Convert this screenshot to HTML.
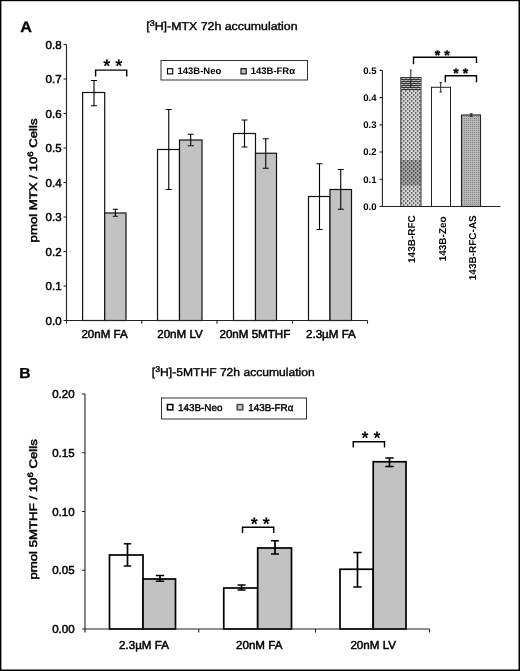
<!DOCTYPE html>
<html lang="en"><head><meta charset="utf-8"><title>Figure</title>
<style>html,body{margin:0;padding:0;background:#fff}svg{display:block}text{font-family:"Liberation Sans", sans-serif;fill:#000;text-rendering:geometricPrecision}.t{font-size:11.6px;stroke:#000;stroke-width:.5px}.tt{stroke:#000;stroke-width:.38px}.tk{font-size:11.5px;stroke:#000;stroke-width:.5px}.lg{font-size:9.5px;font-weight:bold}.lgb{font-size:9.9px;stroke:#000;stroke-width:.4px}.ib{font-size:9.6px;font-weight:bold}.pl{font-size:16px;font-weight:bold;stroke:#000;stroke-width:.3px}.st{font-size:18px;font-weight:bold}.sts{font-size:14px;font-weight:bold;stroke:#000;stroke-width:.3px}.ax{stroke:#222;stroke-width:1.1;fill:none}.bw{fill:#fff;stroke:#111;stroke-width:1.2}.bg{fill:#c2c2c2;stroke:#111;stroke-width:1.2}.bw2{fill:#fff;stroke:#000;stroke-width:1.7}.bg2{fill:#c2c2c2;stroke:#000;stroke-width:1.7}.eb{stroke:#000;stroke-width:1.1;fill:none}.ebi{stroke:#222;stroke-width:1;fill:none}.eb2{stroke:#000;stroke-width:1.7;fill:none}.br{stroke:#000;stroke-width:1.4;fill:none}</style></head><body>
<svg width="520" height="671" viewBox="0 0 520 671">
<defs>
<pattern id="brick" width="4" height="4" patternUnits="userSpaceOnUse"><rect width="4" height="4" fill="#505050"/><rect x="0.3" y="0.3" width="2.9" height="1.5" fill="#fff"/><rect x="2.3" y="2.3" width="2.9" height="1.5" fill="#fff"/><rect x="-1.7" y="2.3" width="2.9" height="1.5" fill="#fff"/></pattern>
<pattern id="lines" width="4" height="4" patternUnits="userSpaceOnUse"><rect width="4" height="4" fill="#3c3c3c"/><rect x="0.4" y="0" width="3.2" height="0.9" fill="#fff"/><rect x="2.4" y="2" width="3.2" height="0.9" fill="#fff"/><rect x="-1.6" y="2" width="3.2" height="0.9" fill="#fff"/></pattern>
<pattern id="dots" width="2" height="2" patternUnits="userSpaceOnUse"><rect width="2" height="2" fill="#b6b6b6"/><rect width="1" height="1" fill="#8a8a8a"/></pattern>
</defs>
<rect x="0" y="0" width="520" height="671" fill="#fff"/>
<rect x="0" y="0" width="1.4" height="671" fill="#000"/>
<rect x="0" y="0" width="520" height="1.2" fill="#000"/>
<rect x="518.5" y="0" width="1.5" height="671" fill="#000"/>
<rect x="0" y="669.5" width="520" height="1.5" fill="#000"/>
<text class="pl" transform="translate(20.3 32.3) scale(1.08 1)" style="font-size:15px">A</text>
<text class="tt" transform="translate(146.2 30.2) scale(1.085 1)" style="font-size:11.4px">[<tspan style="font-size:8.3px" dy="-4">3</tspan><tspan dy="4">H]-MTX 72h accumulation</tspan></text>
<rect class="bw" x="82.60" y="92.50" width="22.10" height="228.00"/>
<rect class="bg" x="104.70" y="213.00" width="21.30" height="107.50"/>
<path class="eb" d="M94.00 80.50V105.75M91.00 80.50H97.00M91.00 105.75H97.00"/>
<path class="eb" d="M115.40 209.20V216.20M112.80 209.20H118.00M112.80 216.20H118.00"/>
<rect class="bw" x="157.50" y="149.50" width="22.00" height="171.00"/>
<rect class="bg" x="179.50" y="140.00" width="22.50" height="180.50"/>
<path class="eb" d="M168.75 109.50V189.50M165.75 109.50H171.75M165.75 189.50H171.75"/>
<path class="eb" d="M190.75 134.25V145.75M187.75 134.25H193.75M187.75 145.75H193.75"/>
<rect class="bw" x="233.50" y="133.50" width="22.00" height="187.00"/>
<rect class="bg" x="255.50" y="153.25" width="21.00" height="167.25"/>
<path class="eb" d="M244.50 120.00V147.00M241.50 120.00H247.50M241.50 147.00H247.50"/>
<path class="eb" d="M265.75 138.75V168.25M262.75 138.75H268.75M262.75 168.25H268.75"/>
<rect class="bw" x="308.50" y="196.50" width="21.50" height="124.00"/>
<rect class="bg" x="330.00" y="189.50" width="21.50" height="131.00"/>
<path class="eb" d="M319.50 163.75V229.50M316.50 163.75H322.50M316.50 229.50H322.50"/>
<path class="eb" d="M340.75 169.50V209.25M337.75 169.50H343.75M337.75 209.25H343.75"/>
<path class="ax" d="M66.5 44.5V320.5H367.5"/>
<path class="ax" d="M63.5 320.50H66.5M63.5 286.00H66.5M63.5 251.50H66.5M63.5 217.00H66.5M63.5 182.50H66.5M63.5 148.00H66.5M63.5 113.50H66.5M63.5 79.00H66.5M63.5 44.50H66.5M66.50 320.5V323.8M141.75 320.5V323.8M217.00 320.5V323.8M292.50 320.5V323.8M367.50 320.5V323.8"/>
<text class="tk" text-anchor="end" x="61.6" y="324.50">0.0</text>
<text class="tk" text-anchor="end" x="61.6" y="290.00">0.1</text>
<text class="tk" text-anchor="end" x="61.6" y="255.50">0.2</text>
<text class="tk" text-anchor="end" x="61.6" y="221.00">0.3</text>
<text class="tk" text-anchor="end" x="61.6" y="186.50">0.4</text>
<text class="tk" text-anchor="end" x="61.6" y="152.00">0.5</text>
<text class="tk" text-anchor="end" x="61.6" y="117.50">0.6</text>
<text class="tk" text-anchor="end" x="61.6" y="83.00">0.7</text>
<text class="tk" text-anchor="end" x="61.6" y="48.50">0.8</text>
<text class="t" text-anchor="middle" x="104.6" y="338">20nM FA</text>
<text class="t" text-anchor="middle" x="180.0" y="338">20nM LV</text>
<text class="t" text-anchor="middle" x="254.9" y="338">20nM 5MTHF</text>
<text class="t" text-anchor="middle" x="330.9" y="338">2.3µM FA</text>
<text class="t" transform="translate(36.8 242.4) rotate(-90) scale(1.21 1)" style="font-size:10.9px">pmol MTX / 10<tspan style="font-size:7.8px" dy="-4">6</tspan><tspan dy="4"> Cells</tspan></text>
<rect x="161" y="60.5" width="146.5" height="19.5" fill="#fff" stroke="#333" stroke-width="1"/>
<rect x="167.5" y="68.7" width="5.2" height="5.2" fill="#fff" stroke="#000" stroke-width="1.1"/>
<rect x="241" y="68.7" width="5.2" height="5.2" fill="#c2c2c2" stroke="#000" stroke-width="1.1"/>
<text class="lg" x="177.5" y="74.3">143B-Neo</text>
<text class="lg" x="250.7" y="74.3">143B-FRα</text>
<path class="br" d="M95.60 76.50V70.10H126.70V76.50"/>
<text class="st" text-anchor="middle" x="112.8" y="72.3">* *</text>
<rect x="400.8" y="77.5" width="20.2" height="129.00" fill="url(#brick)" stroke="#333" stroke-width="1"/>
<rect x="401.3" y="78" width="19.4" height="12" fill="url(#lines)"/>
<rect x="401.3" y="78" width="19.4" height="12" fill="#000" opacity=".15"/>
<rect x="401.3" y="160" width="19.4" height="25.5" fill="#000" opacity=".22"/>
<rect x="431.5" y="87.3" width="19" height="119.20" fill="#fff" stroke="#222" stroke-width="1"/>
<rect x="461.5" y="115" width="19" height="91.50" fill="url(#dots)" stroke="#222" stroke-width="1.1"/>
<path class="ebi" d="M410.80 70.00V87.30M410.00 70.00H411.60M410.00 87.30H411.60"/>
<path class="ebi" d="M440.70 82.70V92.00M439.50 82.70H441.90M439.50 92.00H441.90"/>
<path class="ebi" d="M471.20 113.80V116.30M469.70 113.80H472.70M469.70 116.30H472.70"/>
<path class="ax" d="M382.4 70.4V206.5H500.4"/>
<path class="ax" d="M379.6 206.50H382.4M379.6 179.28H382.4M379.6 152.06H382.4M379.6 124.84H382.4M379.6 97.62H382.4M379.6 70.40H382.4"/>
<text class="ib" text-anchor="end" x="376.6" y="209.80">0.0</text>
<text class="ib" text-anchor="end" x="376.6" y="182.58">0.1</text>
<text class="ib" text-anchor="end" x="376.6" y="155.36">0.2</text>
<text class="ib" text-anchor="end" x="376.6" y="128.14">0.3</text>
<text class="ib" text-anchor="end" x="376.6" y="100.92">0.4</text>
<text class="ib" text-anchor="end" x="376.6" y="73.70">0.5</text>
<text class="ib" text-anchor="end" transform="translate(414.8 215.2) rotate(-90)" style="font-size:10px">143B-RFC</text>
<text class="ib" text-anchor="end" transform="translate(445.8 216.3) rotate(-90)" style="font-size:10px">143B-Zeo</text>
<text class="ib" text-anchor="end" transform="translate(475.6 215.2) rotate(-90)" style="font-size:10px">143B-RFC-AS</text>
<path class="br" d="M413.50 64.20V57.30H476.50V63.00"/>
<path class="br" d="M445.30 82.20V75.80H476.50V82.20"/>
<text class="sts" text-anchor="middle" x="442.2" y="59.6">* *</text>
<text class="sts" text-anchor="middle" x="460.7" y="78.1">* *</text>
<text class="pl" transform="translate(19.3 378.2) scale(1.08 1)" style="font-size:14.5px">B</text>
<text class="tt" transform="translate(151.8 376.2) scale(1.062 1)" style="font-size:11.4px">[<tspan style="font-size:8.3px" dy="-4">3</tspan><tspan dy="4">H]-5MTHF 72h accumulation</tspan></text>
<rect class="bw2" x="109.50" y="555.00" width="33.50" height="74.00"/>
<rect class="bg2" x="143.00" y="579.00" width="32.50" height="50.00"/>
<path class="eb2" d="M127.50 543.75V566.00M123.80 543.75H131.20M123.80 566.00H131.20"/>
<path class="eb2" d="M160.00 575.50V581.25M155.80 575.50H164.20M155.80 581.25H164.20"/>
<rect class="bw2" x="223.75" y="588.00" width="33.95" height="41.00"/>
<rect class="bg2" x="257.70" y="548.00" width="33.80" height="81.00"/>
<path class="eb2" d="M241.50 585.00V590.00M237.50 585.00H245.50M237.50 590.00H245.50"/>
<path class="eb2" d="M275.00 540.75V554.00M271.00 540.75H279.00M271.00 554.00H279.00"/>
<rect class="bw2" x="340.00" y="569.25" width="33.20" height="59.75"/>
<rect class="bg2" x="373.20" y="461.75" width="32.80" height="167.25"/>
<path class="eb2" d="M357.50 552.50V587.00M353.30 552.50H361.70M353.30 587.00H361.70"/>
<path class="eb2" d="M389.50 458.00V466.50M385.30 458.00H393.70M385.30 466.50H393.70"/>
<path class="ax" d="M85.0 394.0V629.0H429.5"/>
<path class="ax" d="M82.0 629.00H85.0M82.0 570.25H85.0M82.0 511.50H85.0M82.0 452.75H85.0M82.0 394.00H85.0M85.00 629.0V632.5M198.75 629.0V632.5M315.50 629.0V632.5M429.50 629.0V632.5"/>
<text class="tk" text-anchor="end" x="74.6" y="633.00">0.00</text>
<text class="tk" text-anchor="end" x="74.6" y="574.25">0.05</text>
<text class="tk" text-anchor="end" x="74.6" y="515.50">0.10</text>
<text class="tk" text-anchor="end" x="74.6" y="456.75">0.15</text>
<text class="tk" text-anchor="end" x="74.6" y="398.00">0.20</text>
<text class="t" text-anchor="middle" x="144.0" y="648.7">2.3µM FA</text>
<text class="t" text-anchor="middle" x="259.2" y="648.7">20nM FA</text>
<text class="t" text-anchor="middle" x="373.2" y="648.7">20nM LV</text>
<text class="t" transform="translate(36.8 579.6) rotate(-90) scale(1.213 1)" style="font-size:10.9px">pmol 5MTHF / 10<tspan style="font-size:7.8px" dy="-4">6</tspan><tspan dy="4"> Cells</tspan></text>
<rect x="161.5" y="398" width="145" height="21" fill="#fff" stroke="#333" stroke-width="1"/>
<rect x="167.4" y="404.5" width="5.4" height="5.4" fill="#fff" stroke="#000" stroke-width="1.5"/>
<rect x="237.2" y="404.5" width="5.6" height="5.4" fill="#c2c2c2" stroke="#444" stroke-width="1.4"/>
<text class="lgb" x="178" y="411.4">143B-Neo</text>
<text class="lgb" x="248.2" y="411.4">143B-FRα</text>
<path class="br" d="M242.50 533.00V527.20H273.75V533.00"/>
<text class="st" text-anchor="middle" x="260.2" y="529.7">* *</text>
<path class="br" d="M353.25 447.50V441.80H384.50V447.50"/>
<text class="st" text-anchor="middle" x="371" y="444">* *</text>
</svg></body></html>
